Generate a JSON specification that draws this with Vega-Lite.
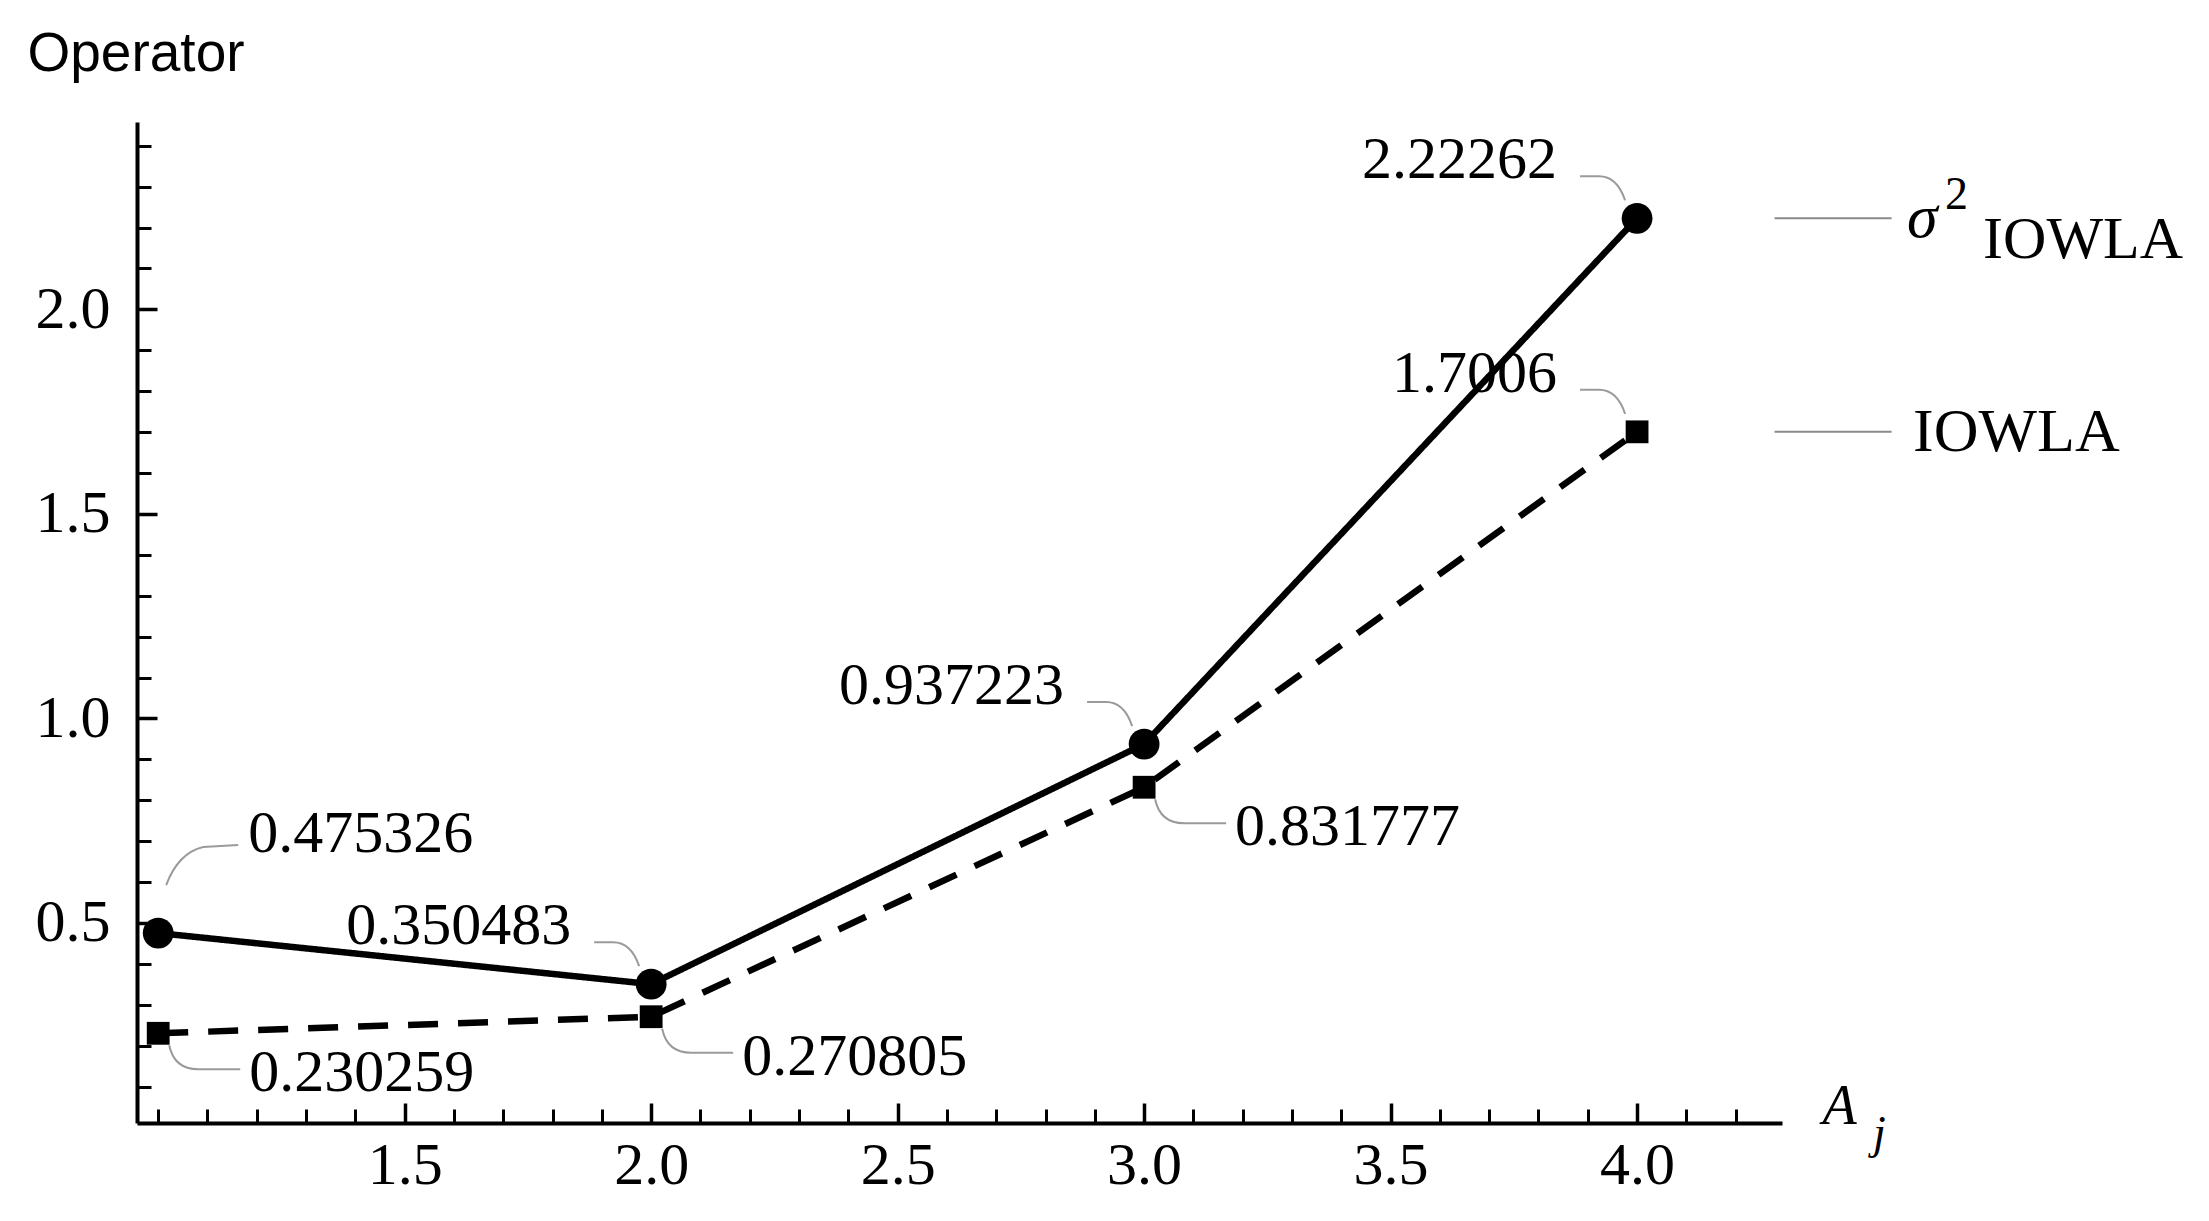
{
  "$schema": "https://vega.github.io/schema/vega-lite/v6.json",
  "width": 1645,
  "height": 1001,
  "autosize": {"type": "none"},
  "padding": {"left": 137, "top": 122, "right": 427, "bottom": 98},
  "background": "white",
  "config": {
    "view": {"stroke": null},
    "axis": {"grid": false, "domainColor": "black", "tickColor": "black", "labelColor": "black", "labelFont": "Liberation Serif", "titleFont": "Liberation Serif", "titleColor": "black", "titleFontWeight": "normal"}
  },
  "title": {
    "text": "j",
    "orient": "bottom",
    "anchor": "start",
    "frame": "group",
    "offset": 0,
    "dx": 1736,
    "dy": -47,
    "baseline": "alphabetic",
    "font": "Liberation Serif",
    "fontStyle": "italic",
    "fontWeight": "normal",
    "fontSize": 46,
    "color": "black"
  },
  "data": {
    "values": [
      {"x": 1, "value": 0.475326, "series": "σ²IOWLA", "label": "0.475326"},
      {"x": 2, "value": 0.350483, "series": "σ²IOWLA", "label": "0.350483"},
      {"x": 3, "value": 0.937223, "series": "σ²IOWLA", "label": "0.937223"},
      {"x": 4, "value": 2.22262, "series": "σ²IOWLA", "label": "2.22262"},
      {"x": 1, "value": 0.230259, "series": "IOWLA", "label": "0.230259"},
      {"x": 2, "value": 0.270805, "series": "IOWLA", "label": "0.270805"},
      {"x": 3, "value": 0.831777, "series": "IOWLA", "label": "0.831777"},
      {"x": 4, "value": 1.7006, "series": "IOWLA", "label": "1.7006"}
    ]
  },
  "resolve": {"axis": {"x": "independent", "y": "independent"}},
  "layer": [
    {
      "mark": {"type": "point", "opacity": 0},
      "encoding": {
        "x": {"field": "x", "type": "quantitative", "scale": {"domain": [0.957, 4.294], "nice": false, "zero": false},
          "axis": {"orient": "bottom", "title": null, "labels": false, "domain": false, "tickSize": -14, "tickWidth": 3,
            "values": [1.0, 1.1, 1.2, 1.3, 1.4, 1.6, 1.7, 1.8, 1.9, 2.1, 2.2, 2.3, 2.4, 2.6, 2.7, 2.8, 2.9, 3.1, 3.2, 3.3, 3.4, 3.6, 3.7, 3.8, 3.9, 4.1, 4.2]}},
        "y": {"field": "value", "type": "quantitative", "scale": {"domain": [0.011, 2.458], "nice": false, "zero": false},
          "axis": {"orient": "left", "title": null, "labels": false, "domain": false, "tickSize": -14, "tickWidth": 3,
            "values": [0.1, 0.2, 0.3, 0.4, 0.6, 0.7, 0.8, 0.9, 1.1, 1.2, 1.3, 1.4, 1.6, 1.7, 1.8, 1.9, 2.1, 2.2, 2.3, 2.4]}}
      }
    },
    {
      "mark": {"type": "line", "color": "black", "strokeWidth": 6.5},
      "encoding": {
        "x": {"field": "x", "type": "quantitative", "scale": {"domain": [0.957, 4.294], "nice": false, "zero": false},
          "axis": {"orient": "bottom", "values": [1.5, 2.0, 2.5, 3.0, 3.5, 4.0], "format": ".1f", "tickSize": -20, "tickWidth": 3.5,
            "domainWidth": 4, "labelFontSize": 60, "labelPadding": 33, "labelFlush": false,
            "title": "A", "titleFontStyle": "italic", "titleFontSize": 56, "titleX": 1685, "titleY": 0, "titleAlign": "left", "titleBaseline": "alphabetic", "titleAnchor": null}},
        "y": {"field": "value", "type": "quantitative", "scale": {"domain": [0.011, 2.458], "nice": false, "zero": false},
          "axis": {"orient": "left", "values": [0.5, 1.0, 1.5, 2.0], "format": ".1f", "tickSize": -20, "tickWidth": 3.5,
            "domainWidth": 4, "labelFontSize": 60, "labelPadding": 47, "labelFlush": false,
            "title": "Operator", "titleFont": "Liberation Sans", "titleFontSize": 55, "titleAngle": 0, "titleX": -110, "titleY": -52, "titleAlign": "left", "titleBaseline": "alphabetic", "titleAnchor": null}},
        "strokeDash": {"field": "series", "type": "nominal", "scale": {"domain": ["σ²IOWLA", "IOWLA"], "range": [[1, 0], [30, 20]]}, "legend": null}
      }
    },
    {
      "mark": {"type": "point", "filled": true, "color": "black", "opacity": 1},
      "encoding": {
        "x": {"field": "x", "type": "quantitative", "axis": null},
        "y": {"field": "value", "type": "quantitative", "axis": null},
        "shape": {"field": "series", "type": "nominal", "scale": {"domain": ["σ²IOWLA", "IOWLA"], "range": ["circle", "square"]}, "legend": null},
        "size": {"field": "series", "type": "nominal", "scale": {"domain": ["σ²IOWLA", "IOWLA"], "range": [950, 520]}, "legend": null}
      }
    },
    {
      "transform": [{"filter": "(datum.series !== 'IOWLA' && datum.x >= 2) || (datum.series === 'IOWLA' && datum.x === 4)"}],
      "layer": [
        {
          "mark": {"type": "text", "align": "right", "baseline": "middle", "dx": -80, "dy": -58, "font": "Liberation Serif", "fontSize": 60, "color": "black"},
          "encoding": {
            "x": {"field": "x", "type": "quantitative", "axis": null},
            "y": {"field": "value", "type": "quantitative", "axis": null},
            "text": {"field": "label"}
          }
        },
        {
          "mark": {"type": "point", "shape": "M-0.57,-0.42L-0.38,-0.42Q-0.2,-0.42,-0.12,-0.18", "size": 40000, "filled": false, "stroke": "#9a9a9a", "strokeWidth": 2, "opacity": 1},
          "encoding": {
            "x": {"field": "x", "type": "quantitative", "axis": null},
            "y": {"field": "value", "type": "quantitative", "axis": null}
          }
        }
      ]
    },
    {
      "transform": [{"filter": "datum.series !== 'IOWLA' && datum.x === 1"}],
      "layer": [
        {
          "mark": {"type": "text", "align": "left", "baseline": "middle", "dx": 90, "dy": -99, "font": "Liberation Serif", "fontSize": 60, "color": "black"},
          "encoding": {
            "x": {"field": "x", "type": "quantitative", "axis": null},
            "y": {"field": "value", "type": "quantitative", "axis": null},
            "text": {"field": "label"}
          }
        },
        {
          "mark": {"type": "point", "shape": "M0.08,-0.48Q0.2,-0.8,0.45,-0.86L0.8,-0.88", "size": 40000, "filled": false, "stroke": "#9a9a9a", "strokeWidth": 2, "opacity": 1},
          "encoding": {
            "x": {"field": "x", "type": "quantitative", "axis": null},
            "y": {"field": "value", "type": "quantitative", "axis": null}
          }
        }
      ]
    },
    {
      "transform": [{"filter": "datum.series === 'IOWLA' && datum.x < 4"}],
      "layer": [
        {
          "mark": {"type": "text", "align": "left", "baseline": "middle", "dx": 91, "dy": 40, "font": "Liberation Serif", "fontSize": 60, "color": "black"},
          "encoding": {
            "x": {"field": "x", "type": "quantitative", "axis": null},
            "y": {"field": "value", "type": "quantitative", "axis": null},
            "text": {"field": "label"}
          }
        },
        {
          "mark": {"type": "point", "shape": "M0.11,0.12Q0.16,0.36,0.4,0.36L0.82,0.36", "size": 40000, "filled": false, "stroke": "#9a9a9a", "strokeWidth": 2, "opacity": 1},
          "encoding": {
            "x": {"field": "x", "type": "quantitative", "axis": null},
            "y": {"field": "value", "type": "quantitative", "axis": null}
          }
        }
      ]
    },
    {
      "transform": [{"filter": "datum.x === 4"}],
      "mark": {"type": "point", "shape": "M-1,0L1,0", "size": 13689, "filled": false, "stroke": "#8a8a8a", "strokeWidth": 2, "opacity": 1, "xOffset": 196},
      "encoding": {
        "x": {"field": "x", "type": "quantitative", "axis": null},
        "y": {"field": "value", "type": "quantitative", "axis": null}
      }
    },
    {
      "transform": [{"filter": "datum.series === 'IOWLA' && datum.x === 4"}],
      "mark": {"type": "text", "align": "left", "baseline": "middle", "dx": 276, "dy": 0, "font": "Liberation Serif", "fontSize": 62, "color": "black"},
      "encoding": {
        "x": {"field": "x", "type": "quantitative", "axis": null},
        "y": {"field": "value", "type": "quantitative", "axis": null},
        "text": {"field": "series"}
      }
    },
    {
      "transform": [{"filter": "datum.series !== 'IOWLA' && datum.x === 4"}],
      "layer": [
        {
          "mark": {"type": "text", "align": "left", "baseline": "middle", "dx": 270, "dy": 0, "font": "Liberation Serif", "fontStyle": "italic", "fontSize": 62, "color": "black", "text": "σ"},
          "encoding": {
            "x": {"field": "x", "type": "quantitative", "axis": null},
            "y": {"field": "value", "type": "quantitative", "axis": null}
          }
        },
        {
          "mark": {"type": "text", "align": "left", "baseline": "middle", "dx": 308, "dy": -23, "font": "Liberation Serif", "fontSize": 46, "color": "black", "text": "2"},
          "encoding": {
            "x": {"field": "x", "type": "quantitative", "axis": null},
            "y": {"field": "value", "type": "quantitative", "axis": null}
          }
        },
        {
          "mark": {"type": "text", "align": "left", "baseline": "middle", "dx": 346, "dy": 22, "font": "Liberation Serif", "fontSize": 60, "color": "black", "text": "IOWLA"},
          "encoding": {
            "x": {"field": "x", "type": "quantitative", "axis": null},
            "y": {"field": "value", "type": "quantitative", "axis": null}
          }
        }
      ]
    }
  ]
}
